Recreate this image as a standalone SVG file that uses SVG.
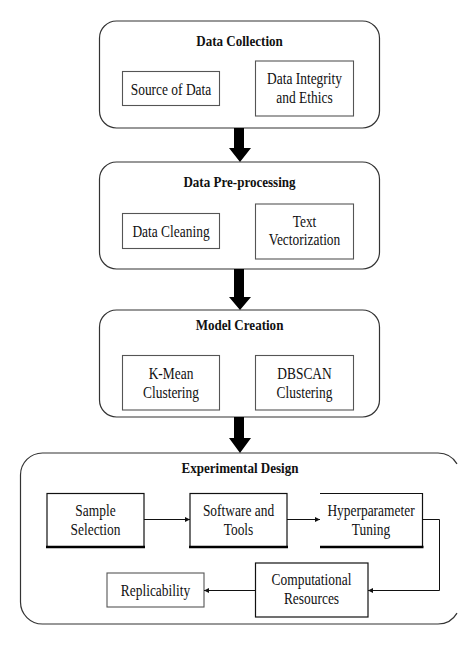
<svg xmlns="http://www.w3.org/2000/svg" width="458" height="660" viewBox="0 0 458 660">
  <style>
    text { font-family: "Liberation Serif", "Times New Roman", serif; fill: #111; text-anchor: middle; }
    .t { font-size: 15px; font-weight: bold; }
    .l { font-size: 16px; }
    .group { fill: #fff; stroke: #333; stroke-width: 1.2; }
    .grey { fill: #fff; stroke: #555; stroke-width: 1.1; }
    .blk { fill: #fff; stroke: #111; stroke-width: 1.2; }
    .thick { stroke: #000; stroke-width: 2.5; fill: none; }
    .big { fill: #000; }
    .thin { stroke: #111; stroke-width: 1; fill: none; marker-end: url(#ah); }
  </style>
  <defs>
    <marker id="ah" viewBox="0 0 6 6" refX="6" refY="3" markerWidth="5" markerHeight="5" orient="auto" markerUnits="userSpaceOnUse">
      <path d="M0,0 L6,3 L0,6 z" fill="#111"/>
    </marker>
  </defs>

  <g id="data-collection">
    <rect class="group" x="99.5" y="21" width="280" height="107" rx="17"/>
    <text class="t" transform="translate(239.5,46) scale(0.87,1)">Data Collection</text>
    <g id="source-of-data">
      <rect class="grey" x="122.5" y="71.5" width="97" height="34"/>
      <text class="l" transform="translate(171,94.5) scale(0.84,1)">Source of Data</text>
    </g>
    <g id="data-integrity">
      <rect class="grey" x="255.5" y="61" width="98" height="55"/>
      <text class="l" transform="translate(304.5,84) scale(0.84,1)">Data Integrity</text>
      <text class="l" transform="translate(304.5,102.5) scale(0.84,1)">and Ethics</text>
    </g>
  </g>

  <g id="data-preprocessing">
    <rect class="group" x="99.5" y="162" width="280" height="107" rx="17"/>
    <text class="t" transform="translate(239.5,187) scale(0.87,1)">Data Pre-processing</text>
    <g id="data-cleaning">
      <rect class="grey" x="122.5" y="213.5" width="97" height="35"/>
      <text class="l" transform="translate(171,237) scale(0.84,1)">Data Cleaning</text>
    </g>
    <g id="text-vectorization">
      <rect class="grey" x="255.5" y="204" width="98" height="55"/>
      <text class="l" transform="translate(304.5,226.5) scale(0.84,1)">Text</text>
      <text class="l" transform="translate(304.5,245) scale(0.84,1)">Vectorization</text>
    </g>
  </g>

  <g id="model-creation">
    <rect class="group" x="99.5" y="310" width="280" height="107" rx="17"/>
    <text class="t" transform="translate(239.5,330) scale(0.87,1)">Model Creation</text>
    <g id="k-mean">
      <rect class="grey" x="122.5" y="355.5" width="97" height="54.5"/>
      <text class="l" transform="translate(171,379) scale(0.84,1)">K-Mean</text>
      <text class="l" transform="translate(171,398) scale(0.84,1)">Clustering</text>
    </g>
    <g id="dbscan">
      <rect class="grey" x="255.5" y="355.5" width="98" height="54.5"/>
      <text class="l" transform="translate(304.5,379) scale(0.84,1)">DBSCAN</text>
      <text class="l" transform="translate(304.5,398) scale(0.84,1)">Clustering</text>
    </g>
  </g>

  <g id="experimental-design">
    <path fill="none" stroke="#333" stroke-width="1.2" d="M457,613.1 A22,22 0 0 1 438,624 H42.5 A22,22 0 0 1 20.5,602 V475 A22,22 0 0 1 42.5,453 H438 A22,22 0 0 1 457,463.9"/>
    <text class="t" transform="translate(240,473) scale(0.87,1)">Experimental Design</text>
    <g id="sample-selection">
      <rect class="blk" x="47" y="493.5" width="97" height="53.5"/>
      <line class="thick" x1="46" y1="547" x2="145" y2="547"/>
      <text class="l" transform="translate(95.5,515.5) scale(0.84,1)">Sample</text>
      <text class="l" transform="translate(95.5,534.5) scale(0.84,1)">Selection</text>
    </g>
    <g id="software-tools">
      <rect class="blk" x="190" y="493.5" width="97" height="53.5"/>
      <line class="thick" x1="189" y1="547" x2="288" y2="547"/>
      <text class="l" transform="translate(238.5,515.5) scale(0.84,1)">Software and</text>
      <text class="l" transform="translate(238.5,534.5) scale(0.84,1)">Tools</text>
    </g>
    <g id="hyperparameter-tuning">
      <path d="M320,493.5 H422.5 V547" fill="none" stroke="#111" stroke-width="1.2"/>
      <line class="thick" x1="320" y1="547" x2="423.5" y2="547"/>
      <text class="l" transform="translate(371,515.5) scale(0.84,1)">Hyperparameter</text>
      <text class="l" transform="translate(371,534.5) scale(0.84,1)">Tuning</text>
    </g>
    <g id="computational-resources">
      <rect class="blk" x="255.5" y="563" width="112.5" height="54"/>
      <text class="l" transform="translate(311.5,585) scale(0.84,1)">Computational</text>
      <text class="l" transform="translate(311.5,604) scale(0.84,1)">Resources</text>
    </g>
    <g id="replicability">
      <rect class="grey" x="107" y="573" width="97" height="34"/>
      <text class="l" transform="translate(155.5,596) scale(0.84,1)">Replicability</text>
    </g>
  </g>

  <g id="connectors">
    <path class="big" d="M234,128 H244 V148 H251 L240,162 L229,148 H234 Z"/>
    <path class="big" d="M234,269 H244 V297 H251 L240,310 L229,297 H234 Z"/>
    <path class="big" d="M234,417 H244 V438 H251 L240,453 L229,438 H234 Z"/>
    <line class="thin" x1="144" y1="519.5" x2="190" y2="519.5"/>
    <line class="thin" x1="287" y1="519.5" x2="320" y2="519.5"/>
    <path class="thin" d="M422.5,519.5 H439.5 V590.5 H368"/>
    <line class="thin" x1="255.5" y1="590.5" x2="204" y2="590.5"/>
  </g>
</svg>
